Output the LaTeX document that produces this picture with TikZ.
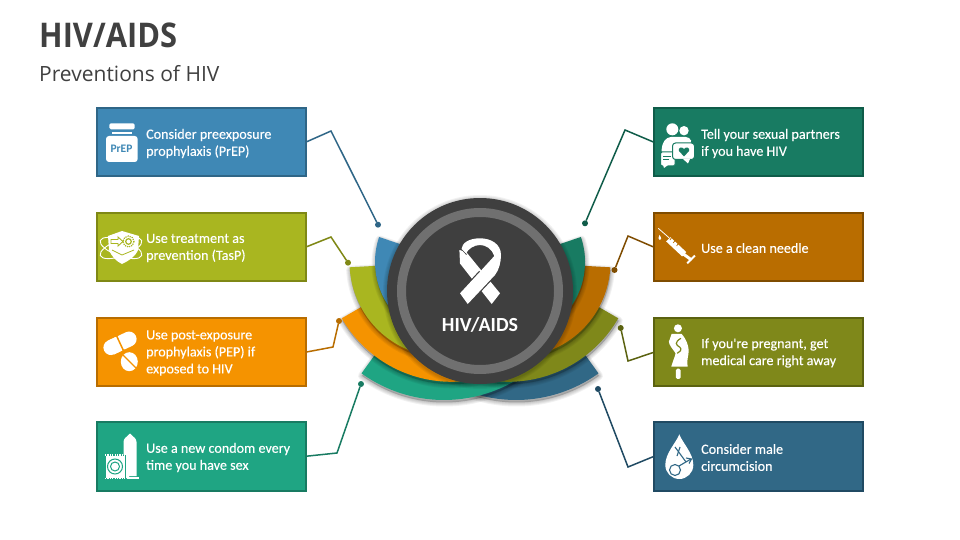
\documentclass[tikz,border=0pt]{standalone}
\usepackage{fontspec}
\setmainfont[BoldFont=Carlito Bold]{Carlito}
\newfontfamily\lblfont[FakeBold=0.25]{Carlito}
\newfontfamily\titlefont{Open Sans}
\newfontfamily\titleb[FakeStretch=0.907]{Open Sans}
\usetikzlibrary{calc}
\definecolor{cBlue}{HTML}{3F88B5}\definecolor{cBlueD}{HTML}{2F6687}
\definecolor{cLime}{HTML}{A9B620}\definecolor{cLimeD}{HTML}{7F8815}
\definecolor{cOrange}{HTML}{F59300}\definecolor{cOrangeD}{HTML}{B86D00}
\definecolor{cTeal}{HTML}{1FA583}\definecolor{cTealD}{HTML}{187B62}
\definecolor{cGreen}{HTML}{187B62}\definecolor{cGreenD}{HTML}{0F5C49}
\definecolor{cAmber}{HTML}{B96D00}\definecolor{cAmberD}{HTML}{7F4C00}
\definecolor{cOlive}{HTML}{7F881A}\definecolor{cOliveD}{HTML}{5B6210}
\definecolor{cNavy}{HTML}{316886}\definecolor{cNavyD}{HTML}{204A63}
\definecolor{cCircle}{HTML}{3F3F3F}\definecolor{cRing}{HTML}{707070}
\definecolor{cInk}{HTML}{404040}
\tikzset{
 box/.style={draw=#1,line width=2pt,outer sep=0pt,minimum width=208.4pt,minimum height=68.4pt,inner sep=0pt},
 lbl/.style={text=white,anchor=west,align=left,font=\lblfont\fontsize{14.1}{17}\selectfont,inner sep=0pt},
 dotn/.style={circle,fill=#1,minimum size=6pt,inner sep=0pt,outer sep=0pt},
 link/.style={draw=#1,line width=1.5pt},
 ico/.style={fill=white,draw=none}
}
% colour, cx, cy, Ro, Ri, a1, a2
\newcommand{\band}[7]{%
 \def\bandpath{plot[domain=#6:#7,samples=50] ({#2+#4*cos(\x)},{#3+#4*sin(\x)}) -- plot[domain=#7:#6,samples=50] ({#2+#5*cos(\x)},{#3+#5*sin(\x)}) -- cycle}%
 \foreach \w in {8,6,4,2}{\draw[black,opacity=.055,fill=black,line width=\w pt,line join=round,shift={(0.5,2.5)}] \bandpath;}%
 \fill[#1] \bandpath;}
\begin{document}
\begin{tikzpicture}[x=1pt,y=-1pt]
\useasboundingbox (0,0) rectangle (960,540);
\fill[white] (0,0) rectangle (960,540);
\node[anchor=west,inner sep=0pt,text=cInk,font=\titleb\bfseries\fontsize{34}{40}\selectfont] (title) at (39,35) {HIV/AIDS};
\node[anchor=west,inner sep=0pt,text=cInk,font=\titlefont\fontsize{21}{24}\selectfont] (sub) at (39,74) {Preventions of HIV};
% boxes
\node[box=cBlueD,fill=cBlue] (b1) at (201.3,142.3) {};
\node[box=cLimeD,fill=cLime] (b2) at (201.3,247.2) {};
\node[box=cOrangeD,fill=cOrange] (b3) at (201.3,352.2) {};
\node[box=cTealD,fill=cTeal] (b4) at (201.3,456.3) {};
\node[box=cGreenD,fill=cGreen] (b5) at (758.3,142.3) {};
\node[box=cAmberD,fill=cAmber] (b6) at (758.3,247.2) {};
\node[box=cOliveD,fill=cOlive] (b7) at (758.3,352.2) {};
\node[box=cNavyD,fill=cNavy] (b8) at (758.3,456.3) {};
\node[lbl] (t1) at (146,143.5) {Consider preexposure\\prophylaxis (PrEP)};
\node[lbl] (t2) at (146,248) {Use treatment as\\prevention (TasP)};
\node[lbl] (t3) at (146,353) {Use post-exposure\\prophylaxis (PEP) if\\exposed to HIV};
\node[lbl] (t4) at (146,457.5) {Use a new condom every\\time you have sex};
\node[lbl] (t5) at (701,143.5) {Tell your sexual partners\\if you have HIV};
\node[lbl] (t6) at (701,248) {Use a clean needle};
\node[lbl] (t7) at (701,353) {If you're pregnant, get\\medical care right away};
\node[lbl] (t8) at (701,457.5) {Consider male\\circumcision};
% petals
\band{cNavy}{516}{259}{141}{118}{54.2}{130}
\band{cTeal}{444}{259}{141}{118}{125.8}{50}
\band{cOrange}{451.7}{254.8}{127}{100}{150}{60}
\band{cOlive}{508.3}{254.8}{127}{100}{30}{120}
\band{cLime}{444.5}{262}{95}{65}{176.8}{70}
\band{cAmber}{515.5}{262}{95}{65}{3.2}{110}
\band{cBlue}{453}{262}{78}{30}{198.7}{100}
\band{cGreen}{507}{262}{78}{30}{-18.7}{80}
% connectors
\node[dotn=cBlueD] (d1) at (378,224.7) {};
\node[dotn=cLimeD] (d2) at (348,262.7) {};
\node[dotn=cOrangeD] (d3) at (339,321) {};
\node[dotn=cTealD] (d4) at (361,384) {};
\node[dotn=cGreenD] (d5) at (585,223.3) {};
\node[dotn=cAmberD] (d6) at (614.5,270) {};
\node[dotn=cOliveD] (d7) at (620.7,328) {};
\node[dotn=cNavyD] (d8) at (598,389) {};
\coordinate (e1) at (331,131);\coordinate (e2) at (331,237);\coordinate (e3) at (333,347);\coordinate (e4) at (337,453);
\coordinate (e5) at (625,130);\coordinate (e6) at (628,236);\coordinate (e7) at (628,361);\coordinate (e8) at (628,467);
\draw[link=cBlueD] (b1.east) -- (e1) -- (d1);
\draw[link=cLimeD] (b2.east) -- (e2) -- (d2);
\draw[link=cOrangeD] (b3.east) -- (e3) -- (d3);
\draw[link=cTealD] (b4.east) -- (e4) -- (d4);
\draw[link=cGreenD] (b5.west) -- (e5) -- (d5);
\draw[link=cAmberD] (b6.west) -- (e6) -- (d6);
\draw[link=cOliveD] (b7.west) -- (e7) -- (d7);
\draw[link=cNavyD] (b8.west) -- (e8) -- (d8);
% hub
\foreach \w in {8,6,4,2}{\fill[black,opacity=.05] (480,292) circle[radius=93+\w/2];}
\node[circle,fill=cCircle,minimum size=186pt,inner sep=0pt,outer sep=0pt] (hub) at (480,291) {};
\draw[cRing,line width=9pt] (hub.center) circle[radius=78.5];
\node[text=white,inner sep=0pt,font=\bfseries\fontsize{20}{24}\selectfont] (hubt) at (480,325) {HIV/AIDS};
% ribbon
\fill[white] (459.4,250) -- (460,263.5) -- (491.7,304) -- (500,293.3) -- (466.2,252) -- cycle;
\draw[cCircle,line width=2.4pt] (460,293.3) -- (480,271.7) (467.7,304) -- (495,275);
\draw[cCircle,line width=.9pt] (462,249.5) -- (466.5,254.5);
\fill[white] (460,293.3) -- (467.7,304) -- (495,275) .. controls (499,270) and (501,262) .. (501,255) .. controls (501,244) and (491,238.3) .. (480,238.3) .. controls (469,238.3) and (462,243) .. (461.5,249) -- (466,253.5) .. controls (468,249) and (474,245) .. (480,245) .. controls (486,245) and (492,249) .. (494.3,256) -- (480,271.7) -- cycle;
% icon 1 PrEP
\fill[ico,rounded corners=1.5pt] (109.3,123.3) rectangle (134.7,129.3);
\fill[ico] (112,131.7) rectangle (132,133.7);
\fill[ico,rounded corners=3pt] (106,136) rectangle (137.7,162);
\node[text=cBlue,inner sep=0pt,font=\bfseries\fontsize{11.5}{12}\selectfont] (i1) at (121.5,149) {PrEP};
% icon 2 TasP
\begin{scope}[white,line width=.9pt]
\draw[rotate around={20:(121,248)}] (121,248) ellipse[x radius=22,y radius=8];
\draw[rotate around={-20:(121,248)}] (121,248) ellipse[x radius=22,y radius=8];
\end{scope}
\fill[ico] (108,236) -- (122,231) -- (139,236) -- (138,250) .. controls (135,257) and (130,260) .. (122,264) .. controls (116,261) and (112,257) .. (109,250) -- cycle;
\draw[cLime,line width=.9pt,fill=white] (111,239.5) -- (118,239.5) -- (118,237) -- (123,241.5) -- (118,246) -- (118,243.5) -- (111,243.5) -- cycle;
\draw[cLime,line width=1.2pt] (128.5,241.5) circle[radius=2.8];
\draw[cLime,line width=1.2pt,densely dotted] (128.5,241.5) circle[radius=5.5];
\draw[cLime,line width=.8pt] (112,250) -- (122,255) -- (134,250);
% icon 3 pills
\begin{scope}[rotate around={25:(120,343.3)}]
\fill[ico,rounded corners=7.4pt] (102.5,335.8) rectangle (125,350.8);
\fill[ico] (110,335.8) rectangle (119.3,350.8);
\fill[ico,rounded corners=7.4pt] (115,335.8) rectangle (137.5,350.8);
\fill[cOrange] (119.3,335) rectangle (120.8,351.5);
\end{scope}
\fill[ico] (129.3,361.7) ellipse[x radius=8.5,y radius=9.5];
\draw[cOrange,line width=1.2pt] (123,355) -- (136,368);
% icon 4 condom
\fill[ico] (123.5,478) -- (123.5,442) .. controls (123.5,438) and (127,437) .. (130,433.5) .. controls (133,437) and (136.5,438) .. (136.5,442) -- (136.5,476) -- (129,476) -- (129,478) -- cycle;
\fill[ico] (127,476.5) rectangle (139,478.5);
\draw[cTeal,line width=1pt,fill=white] (105,455.5) rectangle (125,478);
\draw[white,line width=1.4pt,dash pattern=on 1.2pt off 1.2pt] (105,454.8) -- (125,454.8) (105,478.7) -- (125,478.7);
\draw[cTeal,line width=1pt] (115,466.5) circle[radius=7.5];
\draw[cTeal,line width=1pt] (115,466.5) circle[radius=4.5];
% icon 5 people
\fill[ico] (684,130.7) circle[radius=4.7];
\fill[ico] (672.3,129.3) circle[radius=6];
\fill[ico,rounded corners=4pt] (661.7,155) -- (661.7,145) -- (667,137) -- (677,137) -- (690,137) -- (692,144) -- (672,156) -- cycle;
\draw[cGreen,line width=1pt,fill=white,rounded corners=1.5pt] (660.5,152) rectangle (675,166);
\fill[ico] (663,165) -- (668,165) -- (664,168) -- cycle;
\draw[cGreen,line width=.8pt] (663,156) -- (671,156) (663,159.5) -- (669,159.5);
\draw[cGreen,line width=1pt,fill=white,rounded corners=3pt] (672.5,143) rectangle (694.5,159.5);
\fill[ico] (683,159) -- (690,159) -- (688,163.5) -- cycle;
\fill[cGreen] (684,156.5) -- (679,151) .. controls (677.5,148) and (682,146) .. (684,149) .. controls (686,146) and (690.5,148) .. (689,151) -- cycle;
% icon 6 syringe
\begin{scope}[x=0.3333pt,y=-0.3333pt,shift={(1935,300)}]
\draw[white,line width=.8pt] (40,385) -- (72,413);
\draw[white,line width=6pt] (70,418) -- (118,463);
\draw[white,line width=3pt] (115,462) -- (140,480);
\draw[white,line width=2pt] (127,490) -- (150,467);
\draw[cAmber,line width=.7pt] (80,413) -- (75,420) (90,422) -- (85,429) (100,431) -- (95,438);
\fill[white] (44,405) .. controls (39,415) and (40,420) .. (45,420) .. controls (50,420) and (50,414) .. (44,405) -- cycle;
\end{scope}
% icon 7 pregnant
\begin{scope}[x=0.3333pt,y=-0.3333pt,shift={(1935,930)}]
\fill[ico] (99,55) circle[radius=12pt/3];
\fill[ico] (80,72) -- (110,72) .. controls (122,85) and (135,110) .. (130,135) .. controls (127,150) and (126,160) .. (128,170) -- (79,170) .. controls (85,150) and (90,140) .. (92,130) .. controls (82,115) and (72,105) .. (72,95) -- cycle;
\fill[ico,rounded corners=1.5pt] (93,176) rectangle (107,207);
\draw[cOlive,line width=1.2pt] (108,85) .. controls (88,97) and (92,105) .. (105,112) .. controls (112,118) and (105,128) .. (97,130);
\end{scope}
% icon 8 drop
\fill[ico] (679.3,434.3) .. controls (676,443) and (665.3,453) .. (665.3,465) arc[start angle=180,end angle=360,radius=14pt] .. controls (693.3,453) and (682.5,443) .. cycle;
\begin{scope}[cNavy,line width=1.1pt]
\draw (675,470) circle[radius=5.5];
\draw (679,466) -- (691,459);
\draw (686,458) -- (691.5,459) -- (689,463.5);
\draw (675,447) -- (686,462);
\draw (680,447) -- (677,456);
\end{scope}
\end{tikzpicture}
\end{document}
